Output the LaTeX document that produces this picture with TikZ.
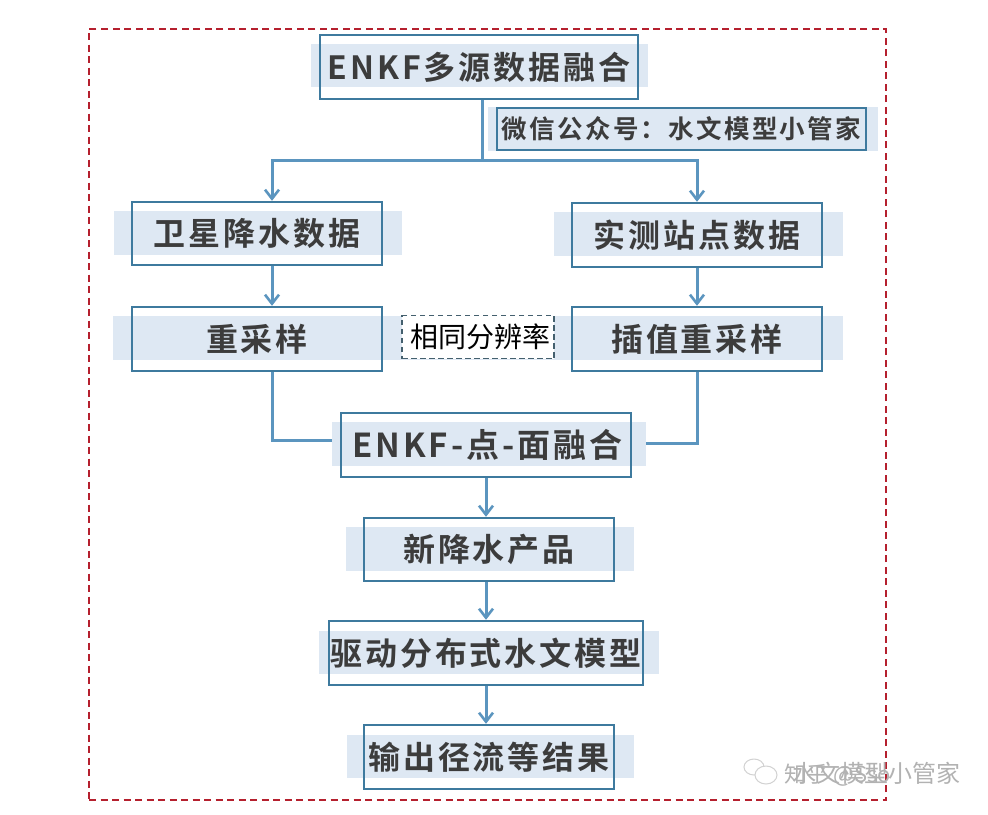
\documentclass[tikz,border=0pt]{standalone}
\usepackage{fontspec}
\usetikzlibrary{arrows.meta}
\newfontfamily\cjkbig[LetterSpace=9,BoldFont={Noto Sans CJK SC Bold}]{Noto Sans CJK SC}
\newfontfamily\cjkplain{Noto Sans CJK SC}
\definecolor{bandc}{HTML}{DEE8F3}
\definecolor{boxc}{HTML}{3E7A9E}
\definecolor{linec}{HTML}{5B95BF}
\definecolor{textc}{HTML}{3C3C3C}
\definecolor{framec}{HTML}{B5202E}
\definecolor{dashc}{HTML}{44606E}
\tikzset{
  bandbox/.style={fill=bandc,draw=none,inner sep=0pt},
  flowbox/.style={draw=boxc,line width=2.4pt,inner sep=0pt,text=textc,
    font=\cjkbig\bfseries\fontsize{32}{32}\selectfont},
  smallbox/.style={flowbox,font=\cjkbig\bfseries\fontsize{25.5}{26}\selectfont},
  noteb/.style={draw=dashc,fill=white,dashed,dash pattern=on 5.5pt off 3.5pt,line width=1.4pt,inner sep=0pt,
    text=black,font=\cjkplain\fontsize{28}{28}\selectfont},
  flowline/.style={draw=linec,line width=3pt},
  flowarrow/.style={flowline,-{Straight Barb[length=9pt,width=14pt,line width=2.6pt]}},
  outerframe/.style={draw=framec,line width=2pt,dashed,dash pattern=on 7pt off 4.5pt},
  markt/.style={text=gray!60,font=\cjkplain\fontsize{24}{24}\selectfont}
}
\begin{document}
\begin{tikzpicture}[x=1pt,y=-1pt]
\useasboundingbox (0,0) rectangle (988,814);
\fill[white] (0,0) rectangle (988,814);
% bands
\node[bandbox,minimum width=337pt,minimum height=43pt] (bA) at (479.5,65.5) {};
\node[bandbox,minimum width=390pt,minimum height=44pt] (bB) at (683,129) {};
\node[bandbox,minimum width=288pt,minimum height=44pt] (bC) at (258,233) {};
\node[bandbox,minimum width=289pt,minimum height=44pt] (bD) at (698.5,234) {};
\node[bandbox,minimum width=730pt,minimum height=44pt] (bE) at (478,338) {};
\node[bandbox,minimum width=314pt,minimum height=44pt] (bF) at (489,444) {};
\node[bandbox,minimum width=288pt,minimum height=44pt] (bG) at (490,549) {};
\node[bandbox,minimum width=340pt,minimum height=43pt] (bH) at (489,652.5) {};
\node[bandbox,minimum width=287pt,minimum height=43pt] (bI) at (490.5,756.5) {};
% outer frame
\node[outerframe,minimum width=797pt,minimum height=771pt,inner sep=0pt] (frame) at (487.5,414.5) {};
% boxes
\node[flowbox,minimum width=318pt,minimum height=64pt] (A) at (479,67) {\raisebox{1pt}{ENKF多源数据融合}};
\node[smallbox,minimum width=369pt,minimum height=42pt] (B) at (681.5,129) {微信公众号：水文模型小管家};
\node[flowbox,minimum width=250pt,minimum height=63pt] (C) at (257,233.5) {卫星降水数据};
\node[flowbox,minimum width=250pt,minimum height=64pt] (D) at (697,235) {实测站点数据};
\node[flowbox,minimum width=250pt,minimum height=64pt] (E) at (257,339) {重采样};
\node[flowbox,minimum width=250pt,minimum height=64pt] (F) at (697,339) {插值重采样};
\node[noteb,minimum width=152pt,minimum height=43pt,text width=152pt,align=center] (N) at (478,337) {\hspace{5pt}相同分辨率};
\node[flowbox,minimum width=290pt,minimum height=64pt,font=\cjkbig\bfseries\fontsize{33}{33}\selectfont] (G) at (486,445) {\hspace{3pt}ENKF-点-面融合};
\node[flowbox,minimum width=250pt,minimum height=63pt] (H) at (489,549.5) {新降水产品};
\node[flowbox,minimum width=314pt,minimum height=64pt] (I) at (486,653) {驱动分布式水文模型};
\node[flowbox,minimum width=250pt,minimum height=64pt] (J) at (489,757) {输出径流等结果};
% connectors
\coordinate (split) at (482,160);
\coordinate (lc) at (272,160);
\draw[flowline] (A.south -| split) -- (split);
\draw[flowarrow] (split) -- (lc) -- (lc |- C.north);
\draw[flowarrow] (split) -| (D.north);
\draw[flowarrow] (lc |- C.south) -- (lc |- E.north);
\draw[flowarrow] (D.south) -- (F.north);
\draw[flowline] (lc |- E.south) |- ([yshift=4pt]bF.west);
\draw[flowline] (F.south) |- ([yshift=1pt]bF.east);
\draw[flowarrow] (G.south) -- (G.south |- H.north);
\draw[flowarrow] (H.south -| I.south) -- (I.north);
\draw[flowarrow] (I.south) -- (I.south |- J.north);
% watermark
\node[markt] (w1) at (876,773) {水文模型小管家};
\node[markt,font=\cjkplain\fontsize{22}{22}\selectfont] (w2) at (838,775) {知乎 @Sso};
\draw[gray!35,line width=1pt,fill=white] (754,767) ellipse (10pt and 8pt);
\draw[gray!35,line width=1pt,fill=white] (766,775) ellipse (11pt and 9pt);
\end{tikzpicture}
\end{document}
